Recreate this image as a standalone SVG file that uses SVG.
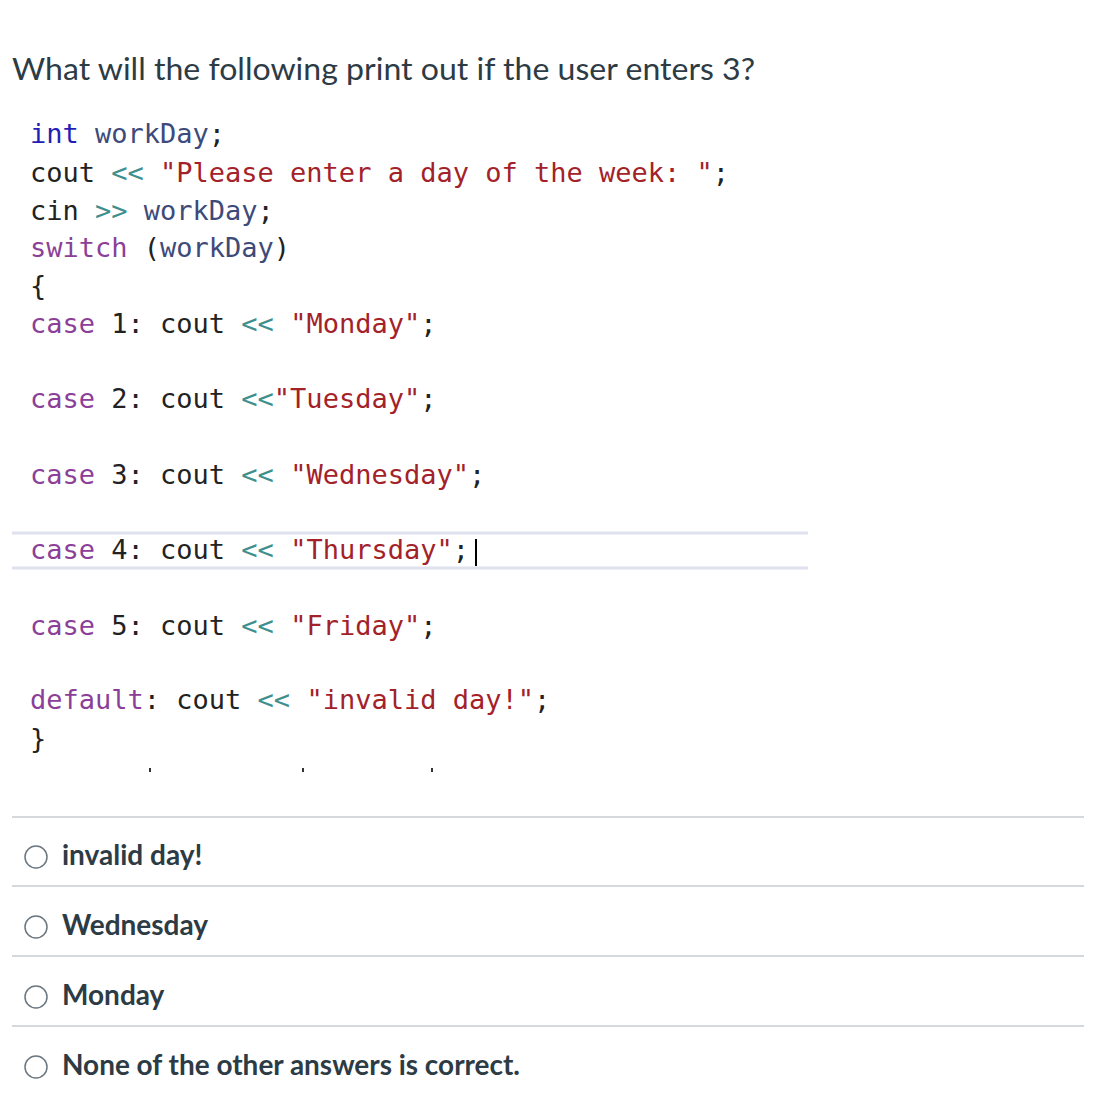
<svg xmlns="http://www.w3.org/2000/svg" width="1116" height="1110" viewBox="0 0 1116 1110">
<style>
.q{font-family:Lato,"Liberation Sans",sans-serif;font-size:31px;fill:#2d3b45}
.c{font-family:"DejaVu Sans Mono","Liberation Mono",monospace;font-size:27px;fill:#222}
.k{fill:#1f1fb8}.p{fill:#8b3f98}.s{fill:#a3222a}.o{fill:#3f8f8f}.v{fill:#3d4a7a}
.a{font-family:Lato,"Liberation Sans",sans-serif;font-size:28px;font-weight:bold;fill:#2d3b45}
.sep{stroke:#c7cdd1;stroke-width:1.5}
.r{fill:#fff;stroke:#6b7780;stroke-width:1.5}
</style>
<rect width="1116" height="1110" fill="#fff"/>
<text class="q" x="12" y="80" textLength="743" lengthAdjust="spacingAndGlyphs">What will the following print out if the user enters 3?</text>
<line x1="12" y1="533" x2="808" y2="533" stroke="#dfe1ee" stroke-width="3"/>
<line x1="12" y1="568" x2="808" y2="568" stroke="#dfe1ee" stroke-width="3"/>
<line x1="476" y1="539" x2="476" y2="566" stroke="#000" stroke-width="2"/>
<g class="c" xml:space="preserve">
<text x="30" y="143"><tspan class="k">int</tspan> <tspan class="v">workDay</tspan>;</text>
<text x="30" y="182">cout <tspan class="o">&lt;&lt;</tspan> <tspan class="s">"Please enter a day of the week: "</tspan>;</text>
<text x="30" y="220">cin <tspan class="o">&gt;&gt;</tspan> <tspan class="v">workDay</tspan>;</text>
<text x="30" y="257"><tspan class="p">switch</tspan> (<tspan class="v">workDay</tspan>)</text>
<text x="30" y="295">{</text>
<text x="30" y="333"><tspan class="p">case</tspan> 1: cout <tspan class="o">&lt;&lt;</tspan> <tspan class="s">"Monday"</tspan>;</text>
<text x="30" y="408"><tspan class="p">case</tspan> 2: cout <tspan class="o">&lt;&lt;</tspan><tspan class="s">"Tuesday"</tspan>;</text>
<text x="30" y="484"><tspan class="p">case</tspan> 3: cout <tspan class="o">&lt;&lt;</tspan> <tspan class="s">"Wednesday"</tspan>;</text>
<text x="30" y="559"><tspan class="p">case</tspan> 4: cout <tspan class="o">&lt;&lt;</tspan> <tspan class="s">"Thursday"</tspan>;</text>
<text x="30" y="635"><tspan class="p">case</tspan> 5: cout <tspan class="o">&lt;&lt;</tspan> <tspan class="s">"Friday"</tspan>;</text>
<text x="30" y="709"><tspan class="p">default</tspan>: cout <tspan class="o">&lt;&lt;</tspan> <tspan class="s">"invalid day!"</tspan>;</text>
<text x="30" y="748">}</text>
</g>
<g stroke="#333" stroke-width="2"><line x1="150" y1="768" x2="150" y2="772"/><line x1="303" y1="768" x2="303" y2="772"/><line x1="432" y1="768" x2="432" y2="772"/></g>
<g>
<line class="sep" x1="12" y1="817" x2="1084" y2="817"/>
<line class="sep" x1="12" y1="886" x2="1084" y2="886"/>
<line class="sep" x1="12" y1="956" x2="1084" y2="956"/>
<line class="sep" x1="12" y1="1026" x2="1084" y2="1026"/>
<circle class="r" cx="36" cy="857" r="11"/><text class="a" x="62" y="865">invalid day!</text>
<circle class="r" cx="36" cy="927" r="11"/><text class="a" x="62" y="935">Wednesday</text>
<circle class="r" cx="36" cy="997" r="11"/><text class="a" x="62" y="1005">Monday</text>
<circle class="r" cx="36" cy="1067" r="11"/><text class="a" x="62" y="1075" textLength="458" lengthAdjust="spacingAndGlyphs">None of the other answers is correct.</text>
</g>
</svg>
